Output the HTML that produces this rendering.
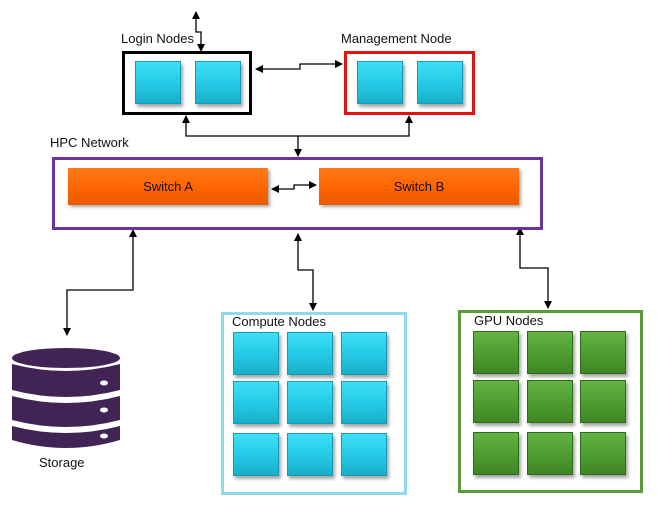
<!DOCTYPE html>
<html><head><style>
body{margin:0;width:657px;height:508px;background:#fff;position:relative;overflow:hidden;font-family:"Liberation Sans",sans-serif;font-size:13px;color:#111}
.a{position:absolute}
.c{position:absolute;width:46px;height:43px;background:linear-gradient(180deg,#3ee0f8,#22c6e2 60%,#1aaec8);border:1px solid #1a9ab2;box-shadow:2px 3px 3px rgba(0,0,0,.35);box-sizing:border-box}
.g{position:absolute;width:46px;height:43px;background:linear-gradient(180deg,#62b344,#4c9a2e 60%,#3f8526);border:1px solid #2e6a1c;box-shadow:2px 3px 3px rgba(0,0,0,.35);box-sizing:border-box}
.sw{position:absolute;height:37px;width:200px;background:linear-gradient(180deg,#ff7a1a,#ff6600 50%,#e85a00);box-shadow:2px 2px 3px rgba(0,0,0,.35);text-align:center;line-height:37px;font-size:13px}
</style></head><body>
<svg class="a" style="left:0;top:0" width="657" height="508">
<defs><marker id="m" markerWidth="8" markerHeight="8" refX="7" refY="4" orient="auto" markerUnits="userSpaceOnUse"><path d="M0,0L8,4L0,8z" fill="#000"/></marker>
<marker id="s" markerWidth="8" markerHeight="8" refX="1" refY="4" orient="auto" markerUnits="userSpaceOnUse"><path d="M8,0L0,4L8,8z" fill="#000"/></marker></defs>
<g fill="none" stroke="#000" stroke-width="1.3">
<path d="M196,12V32H201V51" marker-start="url(#s)" marker-end="url(#m)"/>
<path d="M256,69H300V64H342" marker-start="url(#s)" marker-end="url(#m)"/>
<path d="M186,116V136H409V116" marker-start="url(#s)" marker-end="url(#m)"/>
<path d="M298,136V156" marker-end="url(#m)"/>
<path d="M272,189H294V185H316" marker-start="url(#s)" marker-end="url(#m)"/>
<path d="M133,230V290H67V335" marker-start="url(#s)" marker-end="url(#m)"/>
<path d="M298,234V270H313V310" marker-start="url(#s)" marker-end="url(#m)"/>
<path d="M520,228V268H548V308" marker-start="url(#s)" marker-end="url(#m)"/>
</g>
<g fill="#412455">
<ellipse cx="66" cy="358" rx="54" ry="10"/>
<path d="M12,364Q66,378 120,364V390Q66,404 12,390z"/>
<path d="M12,396Q66,410 120,396V420Q66,434 12,420z"/>
<path d="M12,426Q66,440 120,426V440Q66,456 12,440z"/>
</g>
<g fill="#fff"><ellipse cx="104" cy="383" rx="4" ry="2.5"/><ellipse cx="104" cy="410" rx="4" ry="2.5"/><ellipse cx="104" cy="436" rx="4" ry="2.5"/></g>
</svg>
<div class="a" style="left:121px;top:31px">Login Nodes</div>
<div class="a" style="left:341px;top:31px">Management Node</div>
<div class="a" style="left:122px;top:51px;width:130px;height:64px;border:3px solid #000;box-sizing:border-box"></div>
<div class="a" style="left:344px;top:51px;width:131px;height:64px;border:3px solid #e31212;box-sizing:border-box"></div>
<div class="c" style="left:135px;top:61px"></div><div class="c" style="left:195px;top:61px"></div>
<div class="c" style="left:357px;top:61px"></div><div class="c" style="left:417px;top:61px"></div>
<div class="a" style="left:50px;top:135px">HPC Network</div>
<div class="a" style="left:52px;top:157px;width:491px;height:73px;border:3px solid #6a3598;box-sizing:border-box"></div>
<div class="sw" style="left:68px;top:168px">Switch A</div>
<div class="sw" style="left:319px;top:168px">Switch B</div>
<div class="a" style="left:39px;top:455px">Storage</div>
<div class="a" style="left:221px;top:312px;width:186px;height:183px;border:3px solid #8fd9e8;box-sizing:border-box"></div>
<div class="a" style="left:232px;top:314px">Compute Nodes</div>
<div class="c" style="left:233px;top:332px"></div><div class="c" style="left:287px;top:332px"></div><div class="c" style="left:341px;top:332px"></div>
<div class="c" style="left:233px;top:381px"></div><div class="c" style="left:287px;top:381px"></div><div class="c" style="left:341px;top:381px"></div>
<div class="c" style="left:233px;top:433px"></div><div class="c" style="left:287px;top:433px"></div><div class="c" style="left:341px;top:433px"></div>
<div class="a" style="left:458px;top:310px;width:185px;height:183px;border:3px solid #5a9a3a;box-sizing:border-box"></div>
<div class="a" style="left:474px;top:313px">GPU Nodes</div>
<div class="g" style="left:473px;top:331px"></div><div class="g" style="left:527px;top:331px"></div><div class="g" style="left:580px;top:331px"></div>
<div class="g" style="left:473px;top:380px"></div><div class="g" style="left:527px;top:380px"></div><div class="g" style="left:580px;top:380px"></div>
<div class="g" style="left:473px;top:432px"></div><div class="g" style="left:527px;top:432px"></div><div class="g" style="left:580px;top:432px"></div>
</body></html>
